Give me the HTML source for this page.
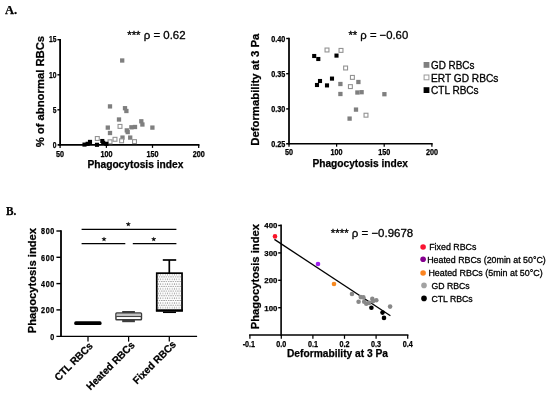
<!DOCTYPE html>
<html lang="en"><head><meta charset="utf-8"><title>Figure</title>
<style>html,body{margin:0;padding:0;background:#fff;}svg{display:block;}</style>
</head><body>
<svg width="550" height="394" viewBox="0 0 550 394">
<defs><pattern id="dots" x="157.2" y="273.6" width="2.3" height="4.72" patternUnits="userSpaceOnUse"><rect width="2.3" height="4.72" fill="#fff"/><circle cx="1.15" cy="0.9" r="0.52" fill="#4a4a4a"/><circle cx="0" cy="3.26" r="0.52" fill="#4a4a4a"/><circle cx="2.3" cy="3.26" r="0.52" fill="#4a4a4a"/></pattern></defs>
<rect width="550" height="394" fill="#fff"/>
<text x="5" y="14.2" font-family='"Liberation Serif", "DejaVu Serif", serif' font-size="12.5" font-weight="bold" text-anchor="start" fill="#000" stroke="#000" stroke-width="0.25" stroke-linejoin="round">A.</text>
<text x="5.9" y="214.5" font-family='"Liberation Serif", "DejaVu Serif", serif' font-size="13.0" font-weight="bold" text-anchor="start" fill="#000" stroke="#000" stroke-width="0.25" stroke-linejoin="round" textLength="10.3" lengthAdjust="spacingAndGlyphs">B.</text>
<line x1="60.1" y1="39.0" x2="60.1" y2="145.75" stroke="#000" stroke-width="1.8" stroke-linecap="butt"/>
<line x1="57.6" y1="144.9" x2="199.5" y2="144.9" stroke="#000" stroke-width="1.7" stroke-linecap="butt"/>
<line x1="57.4" y1="39.7" x2="60.1" y2="39.7" stroke="#000" stroke-width="1.4" stroke-linecap="butt"/>
<text x="56.4" y="42.45" font-family='"Liberation Sans", Arial, Helvetica, sans-serif' font-size="8.3" font-weight="bold" text-anchor="end" fill="#000" stroke="#000" stroke-width="0.25" stroke-linejoin="round" textLength="7.48" lengthAdjust="spacingAndGlyphs">15</text>
<line x1="57.4" y1="74.8" x2="60.1" y2="74.8" stroke="#000" stroke-width="1.4" stroke-linecap="butt"/>
<text x="56.4" y="77.55" font-family='"Liberation Sans", Arial, Helvetica, sans-serif' font-size="8.3" font-weight="bold" text-anchor="end" fill="#000" stroke="#000" stroke-width="0.25" stroke-linejoin="round" textLength="7.48" lengthAdjust="spacingAndGlyphs">10</text>
<line x1="57.4" y1="109.8" x2="60.1" y2="109.8" stroke="#000" stroke-width="1.4" stroke-linecap="butt"/>
<text x="56.4" y="112.55" font-family='"Liberation Sans", Arial, Helvetica, sans-serif' font-size="8.3" font-weight="bold" text-anchor="end" fill="#000" stroke="#000" stroke-width="0.25" stroke-linejoin="round" textLength="3.74" lengthAdjust="spacingAndGlyphs">5</text>
<text x="56.4" y="147.65" font-family='"Liberation Sans", Arial, Helvetica, sans-serif' font-size="8.3" font-weight="bold" text-anchor="end" fill="#000" stroke="#000" stroke-width="0.25" stroke-linejoin="round" textLength="3.74" lengthAdjust="spacingAndGlyphs">0</text>
<line x1="60.1" y1="144.9" x2="60.1" y2="147.9" stroke="#000" stroke-width="1.25" stroke-linecap="butt"/>
<text x="60.1" y="157.0" font-family='"Liberation Sans", Arial, Helvetica, sans-serif' font-size="8.3" font-weight="bold" text-anchor="middle" fill="#000" stroke="#000" stroke-width="0.25" stroke-linejoin="round" textLength="8.03" lengthAdjust="spacingAndGlyphs">50</text>
<line x1="106.4" y1="144.9" x2="106.4" y2="147.9" stroke="#000" stroke-width="1.25" stroke-linecap="butt"/>
<text x="106.4" y="157.0" font-family='"Liberation Sans", Arial, Helvetica, sans-serif' font-size="8.3" font-weight="bold" text-anchor="middle" fill="#000" stroke="#000" stroke-width="0.25" stroke-linejoin="round" textLength="12.04" lengthAdjust="spacingAndGlyphs">100</text>
<line x1="152.5" y1="144.9" x2="152.5" y2="147.9" stroke="#000" stroke-width="1.25" stroke-linecap="butt"/>
<text x="152.5" y="157.0" font-family='"Liberation Sans", Arial, Helvetica, sans-serif' font-size="8.3" font-weight="bold" text-anchor="middle" fill="#000" stroke="#000" stroke-width="0.25" stroke-linejoin="round" textLength="12.04" lengthAdjust="spacingAndGlyphs">150</text>
<line x1="198.7" y1="144.9" x2="198.7" y2="147.9" stroke="#000" stroke-width="1.25" stroke-linecap="butt"/>
<text x="198.7" y="157.0" font-family='"Liberation Sans", Arial, Helvetica, sans-serif' font-size="8.3" font-weight="bold" text-anchor="middle" fill="#000" stroke="#000" stroke-width="0.25" stroke-linejoin="round" textLength="12.04" lengthAdjust="spacingAndGlyphs">200</text>
<text x="87.4" y="167.6" font-family='"Liberation Sans", Arial, Helvetica, sans-serif' font-size="10.2" font-weight="bold" text-anchor="start" fill="#000" stroke="#000" stroke-width="0.25" stroke-linejoin="round" textLength="96" lengthAdjust="spacingAndGlyphs">Phagocytosis index</text>
<text x="43.8" y="147.3" font-family='"Liberation Sans", Arial, Helvetica, sans-serif' font-size="11.2" font-weight="bold" text-anchor="start" fill="#000" stroke="#000" stroke-width="0.25" stroke-linejoin="round" textLength="111.4" lengthAdjust="spacingAndGlyphs" transform="rotate(-90 43.8 147.3)">% of abnormal RBCs</text>
<text x="127.2" y="39" font-family='"Liberation Sans", Arial, Helvetica, sans-serif' font-size="11.4" font-weight="normal" text-anchor="start" fill="#000" stroke="#000" stroke-width="0.3" stroke-linejoin="round" textLength="58.4" lengthAdjust="spacingAndGlyphs">*** ρ = 0.62</text>
<rect x="120.05" y="58.35" width="4.3" height="4.3" fill="#7f7f7f"/>
<rect x="107.85" y="104.25" width="4.3" height="4.3" fill="#7f7f7f"/>
<rect x="122.85" y="106.05" width="4.3" height="4.3" fill="#7f7f7f"/>
<rect x="124.25" y="108.85" width="4.3" height="4.3" fill="#7f7f7f"/>
<rect x="116.85" y="117.35" width="4.3" height="4.3" fill="#7f7f7f"/>
<rect x="105.65" y="125.45" width="4.3" height="4.3" fill="#7f7f7f"/>
<rect x="107.85" y="130.85" width="4.3" height="4.3" fill="#7f7f7f"/>
<rect x="129.25" y="125.15" width="4.3" height="4.3" fill="#7f7f7f"/>
<rect x="132.85" y="124.85" width="4.3" height="4.3" fill="#7f7f7f"/>
<rect x="124.65" y="128.25" width="4.3" height="4.3" fill="#7f7f7f"/>
<rect x="125.55" y="129.95" width="4.3" height="4.3" fill="#7f7f7f"/>
<rect x="120.35" y="135.45" width="4.3" height="4.3" fill="#7f7f7f"/>
<rect x="128.05" y="135.45" width="4.3" height="4.3" fill="#7f7f7f"/>
<rect x="139.15" y="119.15" width="4.3" height="4.3" fill="#7f7f7f"/>
<rect x="140.25" y="122.35" width="4.3" height="4.3" fill="#7f7f7f"/>
<rect x="150.25" y="125.45" width="4.3" height="4.3" fill="#7f7f7f"/>
<rect x="95.35" y="136.55" width="3.9" height="3.9" fill="#fff" stroke="#939393" stroke-width="1.1"/>
<rect x="118.05" y="124.45" width="3.9" height="3.9" fill="#fff" stroke="#939393" stroke-width="1.1"/>
<rect x="108.05" y="139.85" width="3.9" height="3.9" fill="#fff" stroke="#939393" stroke-width="1.1"/>
<rect x="113.05" y="137.35" width="3.9" height="3.9" fill="#fff" stroke="#939393" stroke-width="1.1"/>
<rect x="119.65" y="138.85" width="3.9" height="3.9" fill="#fff" stroke="#939393" stroke-width="1.1"/>
<rect x="132.55" y="139.65" width="3.9" height="3.9" fill="#fff" stroke="#939393" stroke-width="1.1"/>
<rect x="82.45" y="142.55" width="4.1" height="4.1" fill="#000"/>
<rect x="85.55" y="141.75" width="4.1" height="4.1" fill="#000"/>
<rect x="87.95" y="139.85" width="4.1" height="4.1" fill="#000"/>
<rect x="94.95" y="142.75" width="4.1" height="4.1" fill="#000"/>
<rect x="100.25" y="138.95" width="4.1" height="4.1" fill="#000"/>
<rect x="101.15" y="140.75" width="4.1" height="4.1" fill="#000"/>
<rect x="104.35" y="141.75" width="4.1" height="4.1" fill="#000"/>
<line x1="289.0" y1="37.8" x2="289.0" y2="144.52" stroke="#000" stroke-width="1.75" stroke-linecap="butt"/>
<line x1="286.2" y1="143.8" x2="432.7" y2="143.8" stroke="#000" stroke-width="1.45" stroke-linecap="butt"/>
<line x1="286.2" y1="38.5" x2="289.0" y2="38.5" stroke="#000" stroke-width="1.4" stroke-linecap="butt"/>
<text x="285.2" y="41.5" font-family='"Liberation Sans", Arial, Helvetica, sans-serif' font-size="8.3" font-weight="bold" text-anchor="end" fill="#000" stroke="#000" stroke-width="0.25" stroke-linejoin="round" textLength="14.05" lengthAdjust="spacingAndGlyphs">0.40</text>
<line x1="286.2" y1="73.7" x2="289.0" y2="73.7" stroke="#000" stroke-width="1.4" stroke-linecap="butt"/>
<text x="285.2" y="76.7" font-family='"Liberation Sans", Arial, Helvetica, sans-serif' font-size="8.3" font-weight="bold" text-anchor="end" fill="#000" stroke="#000" stroke-width="0.25" stroke-linejoin="round" textLength="14.05" lengthAdjust="spacingAndGlyphs">0.35</text>
<line x1="286.2" y1="108.9" x2="289.0" y2="108.9" stroke="#000" stroke-width="1.4" stroke-linecap="butt"/>
<text x="285.2" y="111.9" font-family='"Liberation Sans", Arial, Helvetica, sans-serif' font-size="8.3" font-weight="bold" text-anchor="end" fill="#000" stroke="#000" stroke-width="0.25" stroke-linejoin="round" textLength="14.05" lengthAdjust="spacingAndGlyphs">0.30</text>
<text x="285.2" y="146.8" font-family='"Liberation Sans", Arial, Helvetica, sans-serif' font-size="8.3" font-weight="bold" text-anchor="end" fill="#000" stroke="#000" stroke-width="0.25" stroke-linejoin="round" textLength="14.05" lengthAdjust="spacingAndGlyphs">0.25</text>
<line x1="289.0" y1="143.8" x2="289.0" y2="146.7" stroke="#000" stroke-width="1.25" stroke-linecap="butt"/>
<text x="289.0" y="155.4" font-family='"Liberation Sans", Arial, Helvetica, sans-serif' font-size="8.3" font-weight="bold" text-anchor="middle" fill="#000" stroke="#000" stroke-width="0.25" stroke-linejoin="round" textLength="8.03" lengthAdjust="spacingAndGlyphs">50</text>
<line x1="336.6" y1="143.8" x2="336.6" y2="146.7" stroke="#000" stroke-width="1.25" stroke-linecap="butt"/>
<text x="336.6" y="155.4" font-family='"Liberation Sans", Arial, Helvetica, sans-serif' font-size="8.3" font-weight="bold" text-anchor="middle" fill="#000" stroke="#000" stroke-width="0.25" stroke-linejoin="round" textLength="12.04" lengthAdjust="spacingAndGlyphs">100</text>
<line x1="384.2" y1="143.8" x2="384.2" y2="146.7" stroke="#000" stroke-width="1.25" stroke-linecap="butt"/>
<text x="384.2" y="155.4" font-family='"Liberation Sans", Arial, Helvetica, sans-serif' font-size="8.3" font-weight="bold" text-anchor="middle" fill="#000" stroke="#000" stroke-width="0.25" stroke-linejoin="round" textLength="12.04" lengthAdjust="spacingAndGlyphs">150</text>
<line x1="431.9" y1="143.8" x2="431.9" y2="146.7" stroke="#000" stroke-width="1.25" stroke-linecap="butt"/>
<text x="431.9" y="155.4" font-family='"Liberation Sans", Arial, Helvetica, sans-serif' font-size="8.3" font-weight="bold" text-anchor="middle" fill="#000" stroke="#000" stroke-width="0.25" stroke-linejoin="round" textLength="12.04" lengthAdjust="spacingAndGlyphs">200</text>
<text x="312.4" y="167" font-family='"Liberation Sans", Arial, Helvetica, sans-serif' font-size="10.2" font-weight="bold" text-anchor="start" fill="#000" stroke="#000" stroke-width="0.25" stroke-linejoin="round" textLength="95.6" lengthAdjust="spacingAndGlyphs">Phagocytosis index</text>
<text x="259.4" y="145.7" font-family='"Liberation Sans", Arial, Helvetica, sans-serif' font-size="11.2" font-weight="bold" text-anchor="start" fill="#000" stroke="#000" stroke-width="0.25" stroke-linejoin="round" textLength="112" lengthAdjust="spacingAndGlyphs" transform="rotate(-90 259.4 145.7)">Deformability at 3 Pa</text>
<text x="348.4" y="38.7" font-family='"Liberation Sans", Arial, Helvetica, sans-serif' font-size="11.3" font-weight="normal" text-anchor="start" fill="#000" stroke="#000" stroke-width="0.3" stroke-linejoin="round" textLength="59.8" lengthAdjust="spacingAndGlyphs">** ρ = −0.60</text>
<rect x="338.25" y="81.85" width="4.3" height="4.3" fill="#7f7f7f"/>
<rect x="338.25" y="91.85" width="4.3" height="4.3" fill="#7f7f7f"/>
<rect x="356.25" y="79.85" width="4.3" height="4.3" fill="#7f7f7f"/>
<rect x="355.25" y="90.35" width="4.3" height="4.3" fill="#7f7f7f"/>
<rect x="359.45" y="90.05" width="4.3" height="4.3" fill="#7f7f7f"/>
<rect x="382.25" y="92.05" width="4.3" height="4.3" fill="#7f7f7f"/>
<rect x="353.85" y="107.45" width="4.3" height="4.3" fill="#7f7f7f"/>
<rect x="347.45" y="116.45" width="4.3" height="4.3" fill="#7f7f7f"/>
<rect x="325.05" y="48.05" width="3.9" height="3.9" fill="#fff" stroke="#939393" stroke-width="1.1"/>
<rect x="339.05" y="48.45" width="3.9" height="3.9" fill="#fff" stroke="#939393" stroke-width="1.1"/>
<rect x="343.65" y="66.05" width="3.9" height="3.9" fill="#fff" stroke="#939393" stroke-width="1.1"/>
<rect x="350.45" y="75.45" width="3.9" height="3.9" fill="#fff" stroke="#939393" stroke-width="1.1"/>
<rect x="348.45" y="84.65" width="3.9" height="3.9" fill="#fff" stroke="#939393" stroke-width="1.1"/>
<rect x="364.05" y="113.25" width="3.9" height="3.9" fill="#fff" stroke="#939393" stroke-width="1.1"/>
<rect x="312.15" y="53.95" width="4.1" height="4.1" fill="#000"/>
<rect x="316.25" y="56.95" width="4.1" height="4.1" fill="#000"/>
<rect x="334.45" y="53.55" width="4.1" height="4.1" fill="#000"/>
<rect x="317.95" y="78.95" width="4.1" height="4.1" fill="#000"/>
<rect x="314.95" y="82.95" width="4.1" height="4.1" fill="#000"/>
<rect x="324.95" y="83.35" width="4.1" height="4.1" fill="#000"/>
<rect x="329.95" y="76.55" width="4.1" height="4.1" fill="#000"/>
<rect x="423.6" y="62" width="5.8" height="5.8" fill="#7f7f7f"/>
<rect x="424.1" y="75" width="4.8" height="4.8" fill="#fff" stroke="#999" stroke-width="1"/>
<rect x="423.6" y="87.2" width="5.8" height="5.8" fill="#000"/>
<text x="431" y="69.4" font-family='"Liberation Sans", Arial, Helvetica, sans-serif' font-size="10" font-weight="normal" text-anchor="start" fill="#000" stroke="#000" stroke-width="0.3" stroke-linejoin="round" textLength="43.4" lengthAdjust="spacingAndGlyphs">GD RBCs</text>
<text x="431" y="81.8" font-family='"Liberation Sans", Arial, Helvetica, sans-serif' font-size="10" font-weight="normal" text-anchor="start" fill="#000" stroke="#000" stroke-width="0.3" stroke-linejoin="round" textLength="67.4" lengthAdjust="spacingAndGlyphs">ERT GD RBCs</text>
<text x="431" y="94.4" font-family='"Liberation Sans", Arial, Helvetica, sans-serif' font-size="10" font-weight="normal" text-anchor="start" fill="#000" stroke="#000" stroke-width="0.3" stroke-linejoin="round" textLength="47.6" lengthAdjust="spacingAndGlyphs">CTL RBCs</text>
<line x1="61.0" y1="230.3" x2="61.0" y2="336.98" stroke="#000" stroke-width="1.8" stroke-linecap="butt"/>
<line x1="56.4" y1="336.3" x2="197.1" y2="336.3" stroke="#000" stroke-width="1.35" stroke-linecap="butt"/>
<line x1="56.4" y1="231.0" x2="61.0" y2="231.0" stroke="#000" stroke-width="1.4" stroke-linecap="butt"/>
<text x="54.9" y="234.3" font-family='"Liberation Sans", Arial, Helvetica, sans-serif' font-size="8.6" font-weight="bold" text-anchor="end" fill="#000" stroke="#000" stroke-width="0.25" stroke-linejoin="round" textLength="13.81" lengthAdjust="spacingAndGlyphs" letter-spacing="0.72">800</text>
<line x1="56.4" y1="257.3" x2="61.0" y2="257.3" stroke="#000" stroke-width="1.4" stroke-linecap="butt"/>
<text x="54.9" y="260.6" font-family='"Liberation Sans", Arial, Helvetica, sans-serif' font-size="8.6" font-weight="bold" text-anchor="end" fill="#000" stroke="#000" stroke-width="0.25" stroke-linejoin="round" textLength="13.81" lengthAdjust="spacingAndGlyphs" letter-spacing="0.72">600</text>
<line x1="56.4" y1="283.6" x2="61.0" y2="283.6" stroke="#000" stroke-width="1.4" stroke-linecap="butt"/>
<text x="54.9" y="286.90000000000003" font-family='"Liberation Sans", Arial, Helvetica, sans-serif' font-size="8.6" font-weight="bold" text-anchor="end" fill="#000" stroke="#000" stroke-width="0.25" stroke-linejoin="round" textLength="13.81" lengthAdjust="spacingAndGlyphs" letter-spacing="0.72">400</text>
<line x1="56.4" y1="309.9" x2="61.0" y2="309.9" stroke="#000" stroke-width="1.4" stroke-linecap="butt"/>
<text x="54.9" y="313.2" font-family='"Liberation Sans", Arial, Helvetica, sans-serif' font-size="8.6" font-weight="bold" text-anchor="end" fill="#000" stroke="#000" stroke-width="0.25" stroke-linejoin="round" textLength="13.81" lengthAdjust="spacingAndGlyphs" letter-spacing="0.72">200</text>
<text x="54.9" y="339.6" font-family='"Liberation Sans", Arial, Helvetica, sans-serif' font-size="8.6" font-weight="bold" text-anchor="end" fill="#000" stroke="#000" stroke-width="0.25" stroke-linejoin="round" textLength="4.6" lengthAdjust="spacingAndGlyphs" letter-spacing="0.72">0</text>
<line x1="88" y1="336.3" x2="88" y2="341.6" stroke="#000" stroke-width="1.25" stroke-linecap="butt"/>
<line x1="128.6" y1="336.3" x2="128.6" y2="341.6" stroke="#000" stroke-width="1.25" stroke-linecap="butt"/>
<line x1="169.3" y1="336.3" x2="169.3" y2="341.6" stroke="#000" stroke-width="1.25" stroke-linecap="butt"/>
<text x="36.1" y="333.2" font-family='"Liberation Sans", Arial, Helvetica, sans-serif' font-size="11.2" font-weight="bold" text-anchor="start" fill="#000" stroke="#000" stroke-width="0.25" stroke-linejoin="round" textLength="105.3" lengthAdjust="spacingAndGlyphs" transform="rotate(-90 36.1 333.2)">Phagocytosis index</text>
<line x1="81.6" y1="229.3" x2="176.4" y2="229.3" stroke="#000" stroke-width="1.25" stroke-linecap="butt"/>
<line x1="81.6" y1="243.7" x2="125.3" y2="243.7" stroke="#000" stroke-width="1.25" stroke-linecap="butt"/>
<line x1="132.8" y1="243.7" x2="176.4" y2="243.7" stroke="#000" stroke-width="1.25" stroke-linecap="butt"/>
<text x="128.2" y="226.4" font-family='"DejaVu Sans", sans-serif' font-size="5.6" font-weight="normal" text-anchor="middle" fill="#000" stroke="#000" stroke-width="0.3" stroke-linejoin="round">★</text>
<text x="103.9" y="241.2" font-family='"DejaVu Sans", sans-serif' font-size="5.6" font-weight="normal" text-anchor="middle" fill="#000" stroke="#000" stroke-width="0.3" stroke-linejoin="round">★</text>
<text x="153.8" y="241.2" font-family='"DejaVu Sans", sans-serif' font-size="5.6" font-weight="normal" text-anchor="middle" fill="#000" stroke="#000" stroke-width="0.3" stroke-linejoin="round">★</text>
<rect x="74.2" y="321.3" width="27.4" height="3.8" rx="1.6" fill="#000"/>
<rect x="122.2" y="311" width="12.7" height="11.2" fill="#3c3c3c"/>
<rect x="115.95" y="313.05" width="25.5" height="6.8" rx="0.8" fill="#fff" stroke="#3c3c3c" stroke-width="1.5"/>
<rect x="116.7" y="313.8" width="24" height="2.2" fill="#c4c4c4"/>
<line x1="116.2" y1="316.5" x2="141.2" y2="316.5" stroke="#444" stroke-width="1.1" stroke-linecap="butt"/>
<line x1="162.8" y1="260" x2="176.2" y2="260" stroke="#000" stroke-width="1.7" stroke-linecap="butt"/>
<line x1="169.3" y1="260" x2="169.3" y2="273" stroke="#000" stroke-width="1.7" stroke-linecap="butt"/>
<line x1="163" y1="312.3" x2="176" y2="312.3" stroke="#000" stroke-width="1.5" stroke-linecap="butt"/>
<rect x="156.75" y="273.15" width="25.3" height="37.5" fill="url(#dots)" stroke="#000" stroke-width="1.7"/>
<line x1="155.9" y1="310.5" x2="182.9" y2="310.5" stroke="#000" stroke-width="2.2" stroke-linecap="butt"/>
<text x="93.5" y="346.6" font-family='"Liberation Sans", Arial, Helvetica, sans-serif' font-size="10.4" font-weight="bold" text-anchor="end" fill="#000" stroke="#000" stroke-width="0.25" stroke-linejoin="round" textLength="49.3" lengthAdjust="spacingAndGlyphs" transform="rotate(-45 93.5 346.6)">CTL RBCs</text>
<text x="135.4" y="345.8" font-family='"Liberation Sans", Arial, Helvetica, sans-serif' font-size="10.4" font-weight="bold" text-anchor="end" fill="#000" stroke="#000" stroke-width="0.25" stroke-linejoin="round" textLength="63.4" lengthAdjust="spacingAndGlyphs" transform="rotate(-45 135.4 345.8)">Heated RBCs</text>
<text x="176.8" y="345.0" font-family='"Liberation Sans", Arial, Helvetica, sans-serif' font-size="10.4" font-weight="bold" text-anchor="end" fill="#000" stroke="#000" stroke-width="0.25" stroke-linejoin="round" textLength="56.1" lengthAdjust="spacingAndGlyphs" transform="rotate(-45 176.8 345.0)">Fixed RBCs</text>
<line x1="281.1" y1="224.6" x2="281.1" y2="335.75" stroke="#000" stroke-width="1.6" stroke-linecap="butt"/>
<line x1="249.1" y1="335.0" x2="408.4" y2="335.0" stroke="#000" stroke-width="1.5" stroke-linecap="butt"/>
<line x1="278.2" y1="225.5" x2="281.1" y2="225.5" stroke="#000" stroke-width="1.4" stroke-linecap="butt"/>
<text x="277.4" y="228.3" font-family='"Liberation Sans", Arial, Helvetica, sans-serif' font-size="7.9" font-weight="bold" text-anchor="end" fill="#000" stroke="#000" stroke-width="0.25" stroke-linejoin="round" textLength="13.05" lengthAdjust="spacingAndGlyphs">400</text>
<line x1="278.2" y1="252.9" x2="281.1" y2="252.9" stroke="#000" stroke-width="1.4" stroke-linecap="butt"/>
<text x="277.4" y="255.70000000000002" font-family='"Liberation Sans", Arial, Helvetica, sans-serif' font-size="7.9" font-weight="bold" text-anchor="end" fill="#000" stroke="#000" stroke-width="0.25" stroke-linejoin="round" textLength="13.05" lengthAdjust="spacingAndGlyphs">300</text>
<line x1="278.2" y1="280.3" x2="281.1" y2="280.3" stroke="#000" stroke-width="1.4" stroke-linecap="butt"/>
<text x="277.4" y="283.1" font-family='"Liberation Sans", Arial, Helvetica, sans-serif' font-size="7.9" font-weight="bold" text-anchor="end" fill="#000" stroke="#000" stroke-width="0.25" stroke-linejoin="round" textLength="13.05" lengthAdjust="spacingAndGlyphs">200</text>
<line x1="278.2" y1="307.7" x2="281.1" y2="307.7" stroke="#000" stroke-width="1.4" stroke-linecap="butt"/>
<text x="277.4" y="310.5" font-family='"Liberation Sans", Arial, Helvetica, sans-serif' font-size="7.9" font-weight="bold" text-anchor="end" fill="#000" stroke="#000" stroke-width="0.25" stroke-linejoin="round" textLength="13.05" lengthAdjust="spacingAndGlyphs">100</text>
<line x1="249.9" y1="335.0" x2="249.9" y2="338.8" stroke="#000" stroke-width="1.25" stroke-linecap="butt"/>
<text x="248.9" y="347.4" font-family='"Liberation Sans", Arial, Helvetica, sans-serif' font-size="8.5" font-weight="bold" text-anchor="middle" fill="#000" stroke="#000" stroke-width="0.25" stroke-linejoin="round" textLength="12.45" lengthAdjust="spacingAndGlyphs">-0.1</text>
<line x1="281.3" y1="335.0" x2="281.3" y2="338.8" stroke="#000" stroke-width="1.25" stroke-linecap="butt"/>
<text x="281.3" y="347.4" font-family='"Liberation Sans", Arial, Helvetica, sans-serif' font-size="8.5" font-weight="bold" text-anchor="middle" fill="#000" stroke="#000" stroke-width="0.25" stroke-linejoin="round" textLength="10.04" lengthAdjust="spacingAndGlyphs">0.0</text>
<line x1="312.9" y1="335.0" x2="312.9" y2="338.8" stroke="#000" stroke-width="1.25" stroke-linecap="butt"/>
<text x="312.9" y="347.4" font-family='"Liberation Sans", Arial, Helvetica, sans-serif' font-size="8.5" font-weight="bold" text-anchor="middle" fill="#000" stroke="#000" stroke-width="0.25" stroke-linejoin="round" textLength="10.04" lengthAdjust="spacingAndGlyphs">0.1</text>
<line x1="344.5" y1="335.0" x2="344.5" y2="338.8" stroke="#000" stroke-width="1.25" stroke-linecap="butt"/>
<text x="344.5" y="347.4" font-family='"Liberation Sans", Arial, Helvetica, sans-serif' font-size="8.5" font-weight="bold" text-anchor="middle" fill="#000" stroke="#000" stroke-width="0.25" stroke-linejoin="round" textLength="10.04" lengthAdjust="spacingAndGlyphs">0.2</text>
<line x1="376.1" y1="335.0" x2="376.1" y2="338.8" stroke="#000" stroke-width="1.25" stroke-linecap="butt"/>
<text x="376.1" y="347.4" font-family='"Liberation Sans", Arial, Helvetica, sans-serif' font-size="8.5" font-weight="bold" text-anchor="middle" fill="#000" stroke="#000" stroke-width="0.25" stroke-linejoin="round" textLength="10.04" lengthAdjust="spacingAndGlyphs">0.3</text>
<line x1="407.7" y1="335.0" x2="407.7" y2="338.8" stroke="#000" stroke-width="1.25" stroke-linecap="butt"/>
<text x="407.7" y="347.4" font-family='"Liberation Sans", Arial, Helvetica, sans-serif' font-size="8.5" font-weight="bold" text-anchor="middle" fill="#000" stroke="#000" stroke-width="0.25" stroke-linejoin="round" textLength="10.04" lengthAdjust="spacingAndGlyphs">0.4</text>
<text x="287.0" y="357" font-family='"Liberation Sans", Arial, Helvetica, sans-serif' font-size="10.2" font-weight="bold" text-anchor="start" fill="#000" stroke="#000" stroke-width="0.25" stroke-linejoin="round" textLength="101" lengthAdjust="spacingAndGlyphs">Deformability at 3 Pa</text>
<text x="259" y="329.3" font-family='"Liberation Sans", Arial, Helvetica, sans-serif' font-size="11.2" font-weight="bold" text-anchor="start" fill="#000" stroke="#000" stroke-width="0.25" stroke-linejoin="round" textLength="105.3" lengthAdjust="spacingAndGlyphs" transform="rotate(-90 259 329.3)">Phagocytosis index</text>
<text x="330.8" y="237" font-family='"Liberation Sans", Arial, Helvetica, sans-serif' font-size="11.4" font-weight="normal" text-anchor="start" fill="#000" stroke="#000" stroke-width="0.3" stroke-linejoin="round" textLength="82.4" lengthAdjust="spacingAndGlyphs">**** ρ = −0.9678</text>
<line x1="274.4" y1="239.4" x2="390.4" y2="315.8" stroke="#000" stroke-width="1.3" stroke-linecap="butt"/>
<circle cx="275" cy="236.4" r="2.3" fill="#fa1428"/>
<circle cx="318" cy="264" r="2.3" fill="#a020f0"/>
<circle cx="334" cy="284" r="2.3" fill="#f8891f"/>
<circle cx="352" cy="294" r="2.3" fill="#888"/>
<circle cx="360.8" cy="297.1" r="2.3" fill="#888"/>
<circle cx="363.4" cy="297.4" r="2.3" fill="#888"/>
<circle cx="358.6" cy="301.7" r="2.3" fill="#888"/>
<circle cx="364.2" cy="301.7" r="2.3" fill="#888"/>
<circle cx="366.3" cy="303.7" r="2.3" fill="#888"/>
<circle cx="369.1" cy="302.9" r="2.3" fill="#888"/>
<circle cx="372.3" cy="298.9" r="2.3" fill="#888"/>
<circle cx="373.1" cy="301.1" r="2.3" fill="#888"/>
<circle cx="376.3" cy="300.3" r="2.3" fill="#888"/>
<circle cx="390.1" cy="306.6" r="2.3" fill="#888"/>
<circle cx="371.4" cy="307.7" r="2.3" fill="#000"/>
<circle cx="382.5" cy="312.6" r="2.3" fill="#000"/>
<circle cx="384" cy="317.9" r="2.3" fill="#000"/>
<circle cx="423.1" cy="247.0" r="2.8" fill="#fa1432"/>
<circle cx="423.1" cy="259.2" r="2.8" fill="#85008f"/>
<circle cx="423.1" cy="273.0" r="2.8" fill="#fb8420"/>
<circle cx="424" cy="285.4" r="2.8" fill="#a2a2a2"/>
<circle cx="424" cy="298.4" r="2.8" fill="#000"/>
<text x="429.2" y="249.6" font-family='"Liberation Sans", Arial, Helvetica, sans-serif' font-size="8.8" font-weight="normal" text-anchor="start" fill="#000" stroke="#000" stroke-width="0.3" stroke-linejoin="round" textLength="47.2" lengthAdjust="spacingAndGlyphs">Fixed RBCs</text>
<text x="427.2" y="262.5" font-family='"Liberation Sans", Arial, Helvetica, sans-serif' font-size="8.8" font-weight="normal" text-anchor="start" fill="#000" stroke="#000" stroke-width="0.3" stroke-linejoin="round" textLength="118.6" lengthAdjust="spacingAndGlyphs">Heated RBCs (20min at 50°C)</text>
<text x="428.4" y="275.8" font-family='"Liberation Sans", Arial, Helvetica, sans-serif' font-size="8.8" font-weight="normal" text-anchor="start" fill="#000" stroke="#000" stroke-width="0.3" stroke-linejoin="round" textLength="114.3" lengthAdjust="spacingAndGlyphs">Heated RBCs (5min at 50°C)</text>
<text x="431.5" y="288.7" font-family='"Liberation Sans", Arial, Helvetica, sans-serif' font-size="8.8" font-weight="normal" text-anchor="start" fill="#000" stroke="#000" stroke-width="0.3" stroke-linejoin="round" textLength="38.2" lengthAdjust="spacingAndGlyphs">GD RBCs</text>
<text x="431.5" y="301.7" font-family='"Liberation Sans", Arial, Helvetica, sans-serif' font-size="8.8" font-weight="normal" text-anchor="start" fill="#000" stroke="#000" stroke-width="0.3" stroke-linejoin="round" textLength="41.2" lengthAdjust="spacingAndGlyphs">CTL RBCs</text>
</svg>
</body></html>
